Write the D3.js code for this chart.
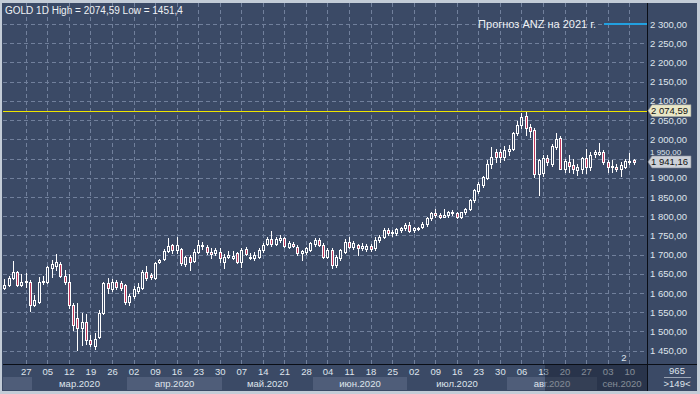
<!DOCTYPE html>
<html><head><meta charset="utf-8">
<script src="https://cdn.jsdelivr.net/npm/d3@7"></script>
<style>
html,body{margin:0;padding:0;background:#c3ccd7;}
svg{display:block;font-family:"Liberation Sans",Arial,sans-serif;}
</style>
</head><body>
<svg id="c" width="700" height="394"></svg>
<script>
// ---- data (2020, daily bars) ----
const dates = [
 "02-20","02-21","02-24","02-25","02-26","02-27","02-28",
 "03-02","03-03","03-04","03-05","03-06","03-09","03-10","03-11","03-12","03-13","03-16","03-17","03-18","03-19","03-20","03-23","03-24","03-25","03-26","03-27","03-30","03-31",
 "04-01","04-02","04-03","04-06","04-07","04-08","04-09","04-10","04-13","04-14","04-15","04-16","04-17","04-20","04-21","04-22","04-23","04-24","04-27","04-28","04-29","04-30",
 "05-01","05-04","05-05","05-06","05-07","05-08","05-11","05-12","05-13","05-14","05-15","05-18","05-19","05-20","05-21","05-22","05-25","05-26","05-27","05-28","05-29",
 "06-01","06-02","06-03","06-04","06-05","06-08","06-09","06-10","06-11","06-12","06-15","06-16","06-17","06-18","06-19","06-22","06-23","06-24","06-25","06-26","06-29","06-30",
 "07-01","07-02","07-03","07-06","07-07","07-08","07-09","07-10","07-13","07-14","07-15","07-16","07-17","07-20","07-21","07-22","07-23","07-24","07-27","07-28","07-29","07-30","07-31",
 "08-03","08-04","08-05","08-06","08-07","08-10","08-11","08-12","08-13","08-14","08-17","08-18","08-19","08-20","08-21","08-24","08-25","08-26","08-27","08-28","08-31",
 "09-01","09-02","09-03","09-04","09-07","09-08","09-09","09-10","09-11"
];
const open = [
 1612,1620,1638,1654,1622,1630,1630,
 1569,1578,1628,1630,1664,1670,1675,1645,1630,1569,1535,1510,1525,1478,1462,1485,1548,1626,1610,1628,1625,1620,
 1578,1592,1606,1614,1655,1646,1640,1680,1688,1710,1724,1712,1714,1675,1693,1683,1708,1722,1720,1708,1703,1708,
 1682,1695,1692,1703,1682,1714,1695,1690,1693,1712,1727,1741,1728,1738,1742,1721,1728,1721,1703,1708,1712,
 1727,1738,1725,1695,1712,1673,1690,1708,1734,1719,1725,1716,1714,1722,1716,1738,1747,1764,1755,1755,1764,1768,
 1777,1764,1768,1771,1780,1795,1808,1803,1799,1803,1810,1808,1797,1810,1818,1843,1866,1882,1900,1937,1968,1968,1953,
 1970,1976,2016,2037,2061,2031,2024,1910,1912,1951,1937,1981,2003,1924,1942,1933,1920,1924,1951,1929,1962,
 1963,1968,1942,1927,1929,1924,1929,1940,1946
];
const high = [
 1636,1645,1683,1657,1649,1653,1633,
 1595,1643,1645,1670,1686,1701,1680,1660,1650,1575,1575,1548,1546,1490,1496,1555,1630,1640,1637,1635,1632,1624,
 1598,1618,1625,1660,1670,1652,1682,1688,1715,1742,1728,1745,1718,1697,1700,1715,1738,1732,1724,1716,1718,1717,
 1702,1710,1710,1708,1718,1720,1705,1706,1716,1730,1745,1762,1745,1750,1747,1735,1733,1726,1712,1720,1732,
 1742,1744,1730,1716,1716,1698,1715,1740,1745,1736,1728,1731,1728,1727,1745,1752,1770,1770,1764,1770,1772,1782,
 1786,1772,1771,1786,1797,1812,1818,1808,1818,1814,1815,1812,1812,1820,1845,1872,1890,1905,1945,1981,1975,1975,1983,
 1985,2020,2048,2068,2074.59,2040,2030,1950,1960,1960,1988,2016,2008,1950,1958,1948,1935,1955,1975,1966,1972,
 1990,1972,1945,1945,1935,1942,1950,1965,1950
];
const low = [
 1610,1618,1636,1619,1618,1616,1554,
 1565,1575,1624,1626,1642,1660,1641,1624,1560,1504,1451.4,1466,1467,1462,1455,1482,1545,1600,1605,1610,1608,1572,
 1570,1588,1600,1610,1635,1636,1636,1678,1685,1706,1703,1705,1674,1670,1661,1680,1705,1715,1701,1692,1698,1680,
 1664,1690,1688,1678,1669,1698,1688,1686,1690,1708,1724,1722,1724,1733,1719,1717,1720,1700,1686,1702,1709,
 1722,1722,1692,1690,1664,1668,1686,1705,1716,1714,1699,1712,1710,1710,1712,1734,1744,1750,1748,1752,1760,1765,
 1760,1760,1765,1768,1775,1790,1798,1795,1797,1797,1802,1795,1795,1806,1815,1838,1860,1875,1898,1925,1940,1940,1945,
 1960,1972,2012,2030,2010,2005,1903,1855,1905,1932,1930,1975,1922,1915,1915,1912,1908,1912,1912,1920,1955,
 1960,1935,1915,1915,1918,1905,1925,1935,1936
];
const close = [
 1620,1638,1654,1622,1630,1631,1569,
 1582,1630,1631,1668,1676,1680,1645,1628,1570,1517,1510,1525,1478,1468,1480,1548,1626,1612,1628,1615,1612,1578,
 1592,1610,1617,1655,1640,1641,1677,1686,1709,1722,1711,1725,1677,1693,1680,1708,1724,1724,1708,1701,1712,1690,
 1695,1699,1697,1682,1712,1701,1692,1699,1712,1725,1741,1728,1741,1742,1723,1729,1723,1703,1709,1716,1729,
 1738,1725,1695,1712,1673,1695,1712,1734,1721,1729,1716,1723,1723,1714,1738,1747,1764,1755,1760,1766,1768,1777,
 1762,1768,1769,1780,1795,1808,1803,1799,1803,1810,1808,1797,1810,1818,1842,1868,1884,1901,1937,1955,1955,1953,1972,
 1976,2016,2037,2059,2029,2022,1910,1946,1951,1940,1983,2000,1924,1944,1931,1924,1927,1951,1929,1959,1968,
 1968,1942,1929,1931,1924,1933,1944,1944,1941.16
];
const priceTicks = [2300,2250,2200,2150,2100,2050,2000,1950,1900,1850,1800,1750,1700,1650,1600,1550,1500,1450];
const weekTicks = ["02-27","03-05","03-12","03-19","03-26","04-02","04-09","04-16","04-23","04-30","05-07","05-14","05-21","05-28",
 "06-04","06-11","06-18","06-25","07-02","07-09","07-16","07-23","07-30","08-06","08-13","08-20","08-27","09-03","09-10"];
const monthStarts = ["02-20","03-02","04-01","05-01","06-01","07-01","08-03","09-01"];
const monthLabels = ["","мар.2020","апр.2020","май.2020","июн.2020","июл.2020","авг.2020","сен.2020"];
const titleText = "GOLD 1D High = 2074,59 Low = 1451,4";
const highLevel = 2074.59, lastPrice = 1941.16, forecastLevel = 2300;
const forecastLabel = "Прогноз ANZ на 2021 г.";
const cornerTop = "965", cornerBottom = ">149<";

// ---- layout ----
const BG = "#3b4a66", GRID = "#71809c", TXT = "#dfe4ec";
const L = 3, R = 647, T = 3, B = 364;
const svg = d3.select("#c");
const loc = d3.formatLocale({decimal:",", thousands:" ", grouping:[3], currency:["",""]});
const fmt = loc.format(",.2f");

const x = d3.scalePoint().domain(dates).range([4.2, 633.5]);
const y = d3.scaleLinear().domain([1450, 2300]).range([350.7, 24]);
const px = d => Math.round(x(d));
const py = v => Math.round(y(v));

svg.append("rect").attr("x",2).attr("y",3).attr("width",695).attr("height",388).attr("fill",BG);

// grid
const g = svg.append("g");
g.selectAll("line.h").data(priceTicks).join("line")
  .attr("x1",L).attr("x2",R).attr("y1",d=>py(d)+0.5).attr("y2",d=>py(d)+0.5)
  .attr("stroke",GRID).attr("stroke-dasharray","4,3");
g.selectAll("line.v").data(weekTicks).join("line")
  .attr("x1",d=>px(d)+0.5).attr("x2",d=>px(d)+0.5).attr("y1",T).attr("y2",B)
  .attr("stroke",GRID).attr("stroke-dasharray","4,3");

// month bands
const bandX0 = i => i===0 ? L : px(monthStarts[i]) - 2;
const bandX1 = i => i===monthStarts.length-1 ? R : px(monthStarts[i+1]) - 2;
const mb = svg.append("g");
monthStarts.forEach((m,i)=>{
  if(i%2===0) mb.append("rect").attr("x",bandX0(i)).attr("y",377).attr("width",bandX1(i)-bandX0(i)).attr("height",13).attr("fill","#4f5d79");
  mb.append("text").attr("x",(bandX0(i)+bandX1(i))/2).attr("y",387).attr("text-anchor","middle")
    .attr("font-size","9.5px").attr("fill",TXT).text(monthLabels[i]);
});

// time axis
const xa = svg.append("g").attr("transform",`translate(0,${B})`)
  .call(d3.axisBottom(x).tickValues(weekTicks).tickSize(0).tickPadding(4).tickFormat(d=>d.slice(3)));
xa.select(".domain").remove();
xa.selectAll("text").attr("fill",TXT).attr("font-size","9.5px").attr("font-family","Liberation Sans, Arial, sans-serif");

// price axis (the label hidden behind the last-price box is skipped)
const ya = svg.append("g").attr("transform",`translate(${R},0)`)
  .call(d3.axisRight(y).tickValues(priceTicks).tickSize(0).tickPadding(3).tickFormat(d=>fmt(d)));
ya.select(".domain").remove();
ya.selectAll("text").attr("fill",TXT).attr("font-size","9.5px").attr("font-family","Liberation Sans, Arial, sans-serif");
ya.selectAll(".tick").filter(d=>Math.abs(y(d)-y(lastPrice))<8).select("text").attr("font-size","8px").attr("dy","-0.45em");

// candles
svg.append("clipPath").attr("id","pc").append("rect").attr("x",L).attr("y",T).attr("width",R-L).attr("height",B-T);
const cg = svg.append("g").attr("clip-path","url(#pc)");
const idx = d3.range(dates.length);
cg.selectAll("line.w").data(idx).join("line")
  .attr("x1",i=>px(dates[i])+0.5).attr("x2",i=>px(dates[i])+0.5)
  .attr("y1",i=>py(high[i])).attr("y2",i=>py(low[i])+1)
  .attr("stroke","#ffffff");
cg.selectAll("rect.b").data(idx).join("rect")
  .attr("x",i=>px(dates[i])-0.5).attr("width",2)
  .attr("y",i=>py(Math.max(open[i],close[i]))+0.5)
  .attr("height",i=>Math.max(1, py(Math.min(open[i],close[i]))-py(Math.max(open[i],close[i]))))
  .attr("fill",i=>close[i]<open[i] ? "#c2385c" : BG)
  .attr("stroke","#ffffff").attr("stroke-width",1);

// high level line
const hy = py(highLevel)+0.5;
svg.append("line").attr("x1",L).attr("x2",R).attr("y1",hy).attr("y2",hy).attr("stroke","#eee400").attr("stroke-width",1.2);

// forecast line and label
const fy = y(forecastLevel);
svg.append("line").attr("x1",604).attr("x2",R).attr("y1",fy).attr("y2",fy).attr("stroke","#22a0e0").attr("stroke-width",2);
svg.append("text").attr("x",596).attr("y",fy+3.8).attr("text-anchor","end").attr("font-size","11px").attr("fill","#eef1f5").text(forecastLabel);

// title
svg.append("text").attr("x",5).attr("y",13.5).attr("font-size","10px").attr("fill","#eef1f5").text(titleText);

// axes borders
svg.append("line").attr("x1",R+0.5).attr("x2",R+0.5).attr("y1",T).attr("y2",391).attr("stroke","#0a0e16");
svg.append("line").attr("x1",L).attr("x2",697).attr("y1",B+0.5).attr("y2",B+0.5).attr("stroke","#0a0e16");

// dim overlay on time axis
svg.append("rect").attr("x",545).attr("y",B+1).attr("width",R-545).attr("height",391-B-1).attr("fill","#141b2a").attr("opacity",0.45);

// price boxes
function priceBox(v, fill){
  const yc = y(v);
  svg.append("path").attr("d",`M${R+1},${yc} L${R+5},${yc-6} L691,${yc-6} L691,${yc+6} L${R+5},${yc+6} Z`)
    .attr("fill",fill).attr("stroke","#8a8f98").attr("stroke-width",0.6);
  svg.append("text").attr("x",R+4).attr("y",yc+3.4).attr("font-size","9.5px").attr("fill","#111").text(fmt(v));
}
priceBox(highLevel,"#e9e7c6");
priceBox(lastPrice,"#cdd1d8");

// window number
svg.append("text").attr("x",624).attr("y",361).attr("text-anchor","middle").attr("font-size","9.5px").attr("fill",TXT).text("2");

// corner box
svg.append("text").attr("x",677).attr("y",374).attr("text-anchor","middle").attr("font-size","9.5px").attr("fill",TXT).text(cornerTop);
svg.append("line").attr("x1",664).attr("x2",691).attr("y1",377.5).attr("y2",377.5).attr("stroke","#9aa4b4");
svg.append("text").attr("x",677).attr("y",387).attr("text-anchor","middle").attr("font-size","9.5px").attr("fill",TXT).text(cornerBottom);
</script>
</body></html>
